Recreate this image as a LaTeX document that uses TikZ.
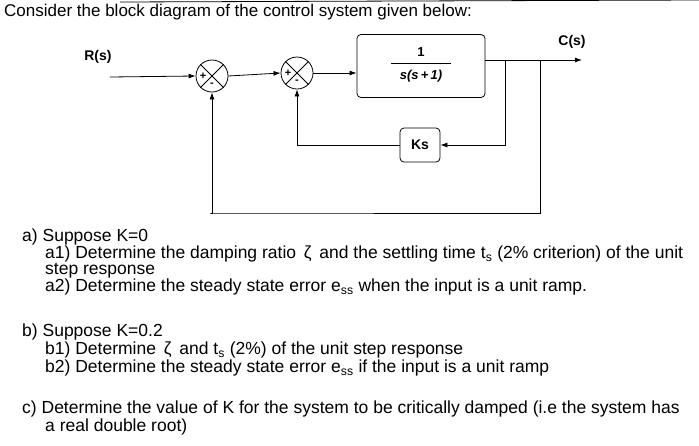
\documentclass[tikz,border=0pt]{standalone}
\usepackage{fontspec}
\setmainfont{Liberation Sans}
\usetikzlibrary{arrows.meta}
\begin{document}
\begin{tikzpicture}[x=1pt,y=-1pt,
  sum/.style={circle,draw,thick,minimum size=32pt,inner sep=0pt},
  blk/.style={draw,thick,rounded corners=4pt,inner sep=0pt},
  sig/.style={thick,-{Latex[length=7pt,width=5pt]}},
  lbl/.style={font=\fontsize{14}{16}\selectfont\bfseries},
  txt/.style={anchor=west,inner sep=0pt,font=\fontsize{17.5}{20}\selectfont}]
\useasboundingbox (0,0) rectangle (699,445);
\draw[thick] (120,2) -- (699,0);
\node[txt,font=\fontsize{17}{19}\selectfont] (title) at (4,12) {Consider the block diagram of the control system given below:};
\node[sum] (s1) at (212,76) {};
\node[sum] (s2) at (297,73) {};
\foreach \s in {s1,s2}{
  \draw[thick] (\s.north west) -- (\s.south east);
  \draw[thick] (\s.north east) -- (\s.south west);
  \node[font=\fontsize{11}{11}\selectfont\bfseries] at ([xshift=-9pt]\s.center) {+};
  \node[font=\fontsize{11}{11}\selectfont\bfseries] at ([yshift=-9pt]\s.center) {-};
}
\node[blk,minimum width=128pt,minimum height=63pt] (G) at (421,66) {};
\node[font=\fontsize{13}{14}\selectfont\bfseries] (num) at (421,52) {1};
\draw[thick] (391,63) -- (451,63);
\node[font=\fontsize{13}{14}\selectfont\bfseries\itshape] (den) at (421,76) {s(s\,+\,1)};
\node[blk,minimum width=40pt,minimum height=34pt] (K) at (420,145) {\fontsize{14}{16}\selectfont\bfseries Ks};
\node[lbl] (R) at (98,57) {R(s)};
\node[lbl] (C) at (572,42) {C(s)};
\coordinate (in) at (110,77);
\coordinate (out) at (582,60);
\coordinate (b1) at (505,60);
\coordinate (b2) at (540,60);
\draw[sig] (in) -- (s1.west);
\draw[sig] (s1.east) -- (s2.west);
\draw[sig] (s2.east) -- (G.west |- s2.east);
\draw[sig] (G.east |- b1) -- (out);
\draw[sig] (b1) |- (K.east);
\draw[sig] (K.west) -| (s2.south);
\draw[sig] (b2) |- (210,213) -| (s1.south);
\node[txt] (a) at (22,237) {a) Suppose K=0};
\node[txt] (a1) at (45,254) {a1) Determine the damping ratio \,ζ\, and the settling time t\textsubscript{s} (2\% criterion) of the unit};
\node[txt] (a1b) at (45,271) {step response};
\node[txt] (a2) at (45,287) {a2) Determine the steady state error e\textsubscript{ss} when the input is a unit ramp.};
\node[txt] (b) at (22,332) {b) Suppose K=0.2};
\node[txt] (bb1) at (45,350) {b1) Determine \,ζ\, and t\textsubscript{s} (2\%) of the unit step response};
\node[txt] (bb2) at (45,368) {b2) Determine the steady state error e\textsubscript{ss} if the input is a unit ramp};
\node[txt] (c) at (22,409) {c) Determine the value of K for the system to be critically damped (i.e the system has};
\node[txt] (c2) at (45,427) {a real double root)};
\end{tikzpicture}
\end{document}
